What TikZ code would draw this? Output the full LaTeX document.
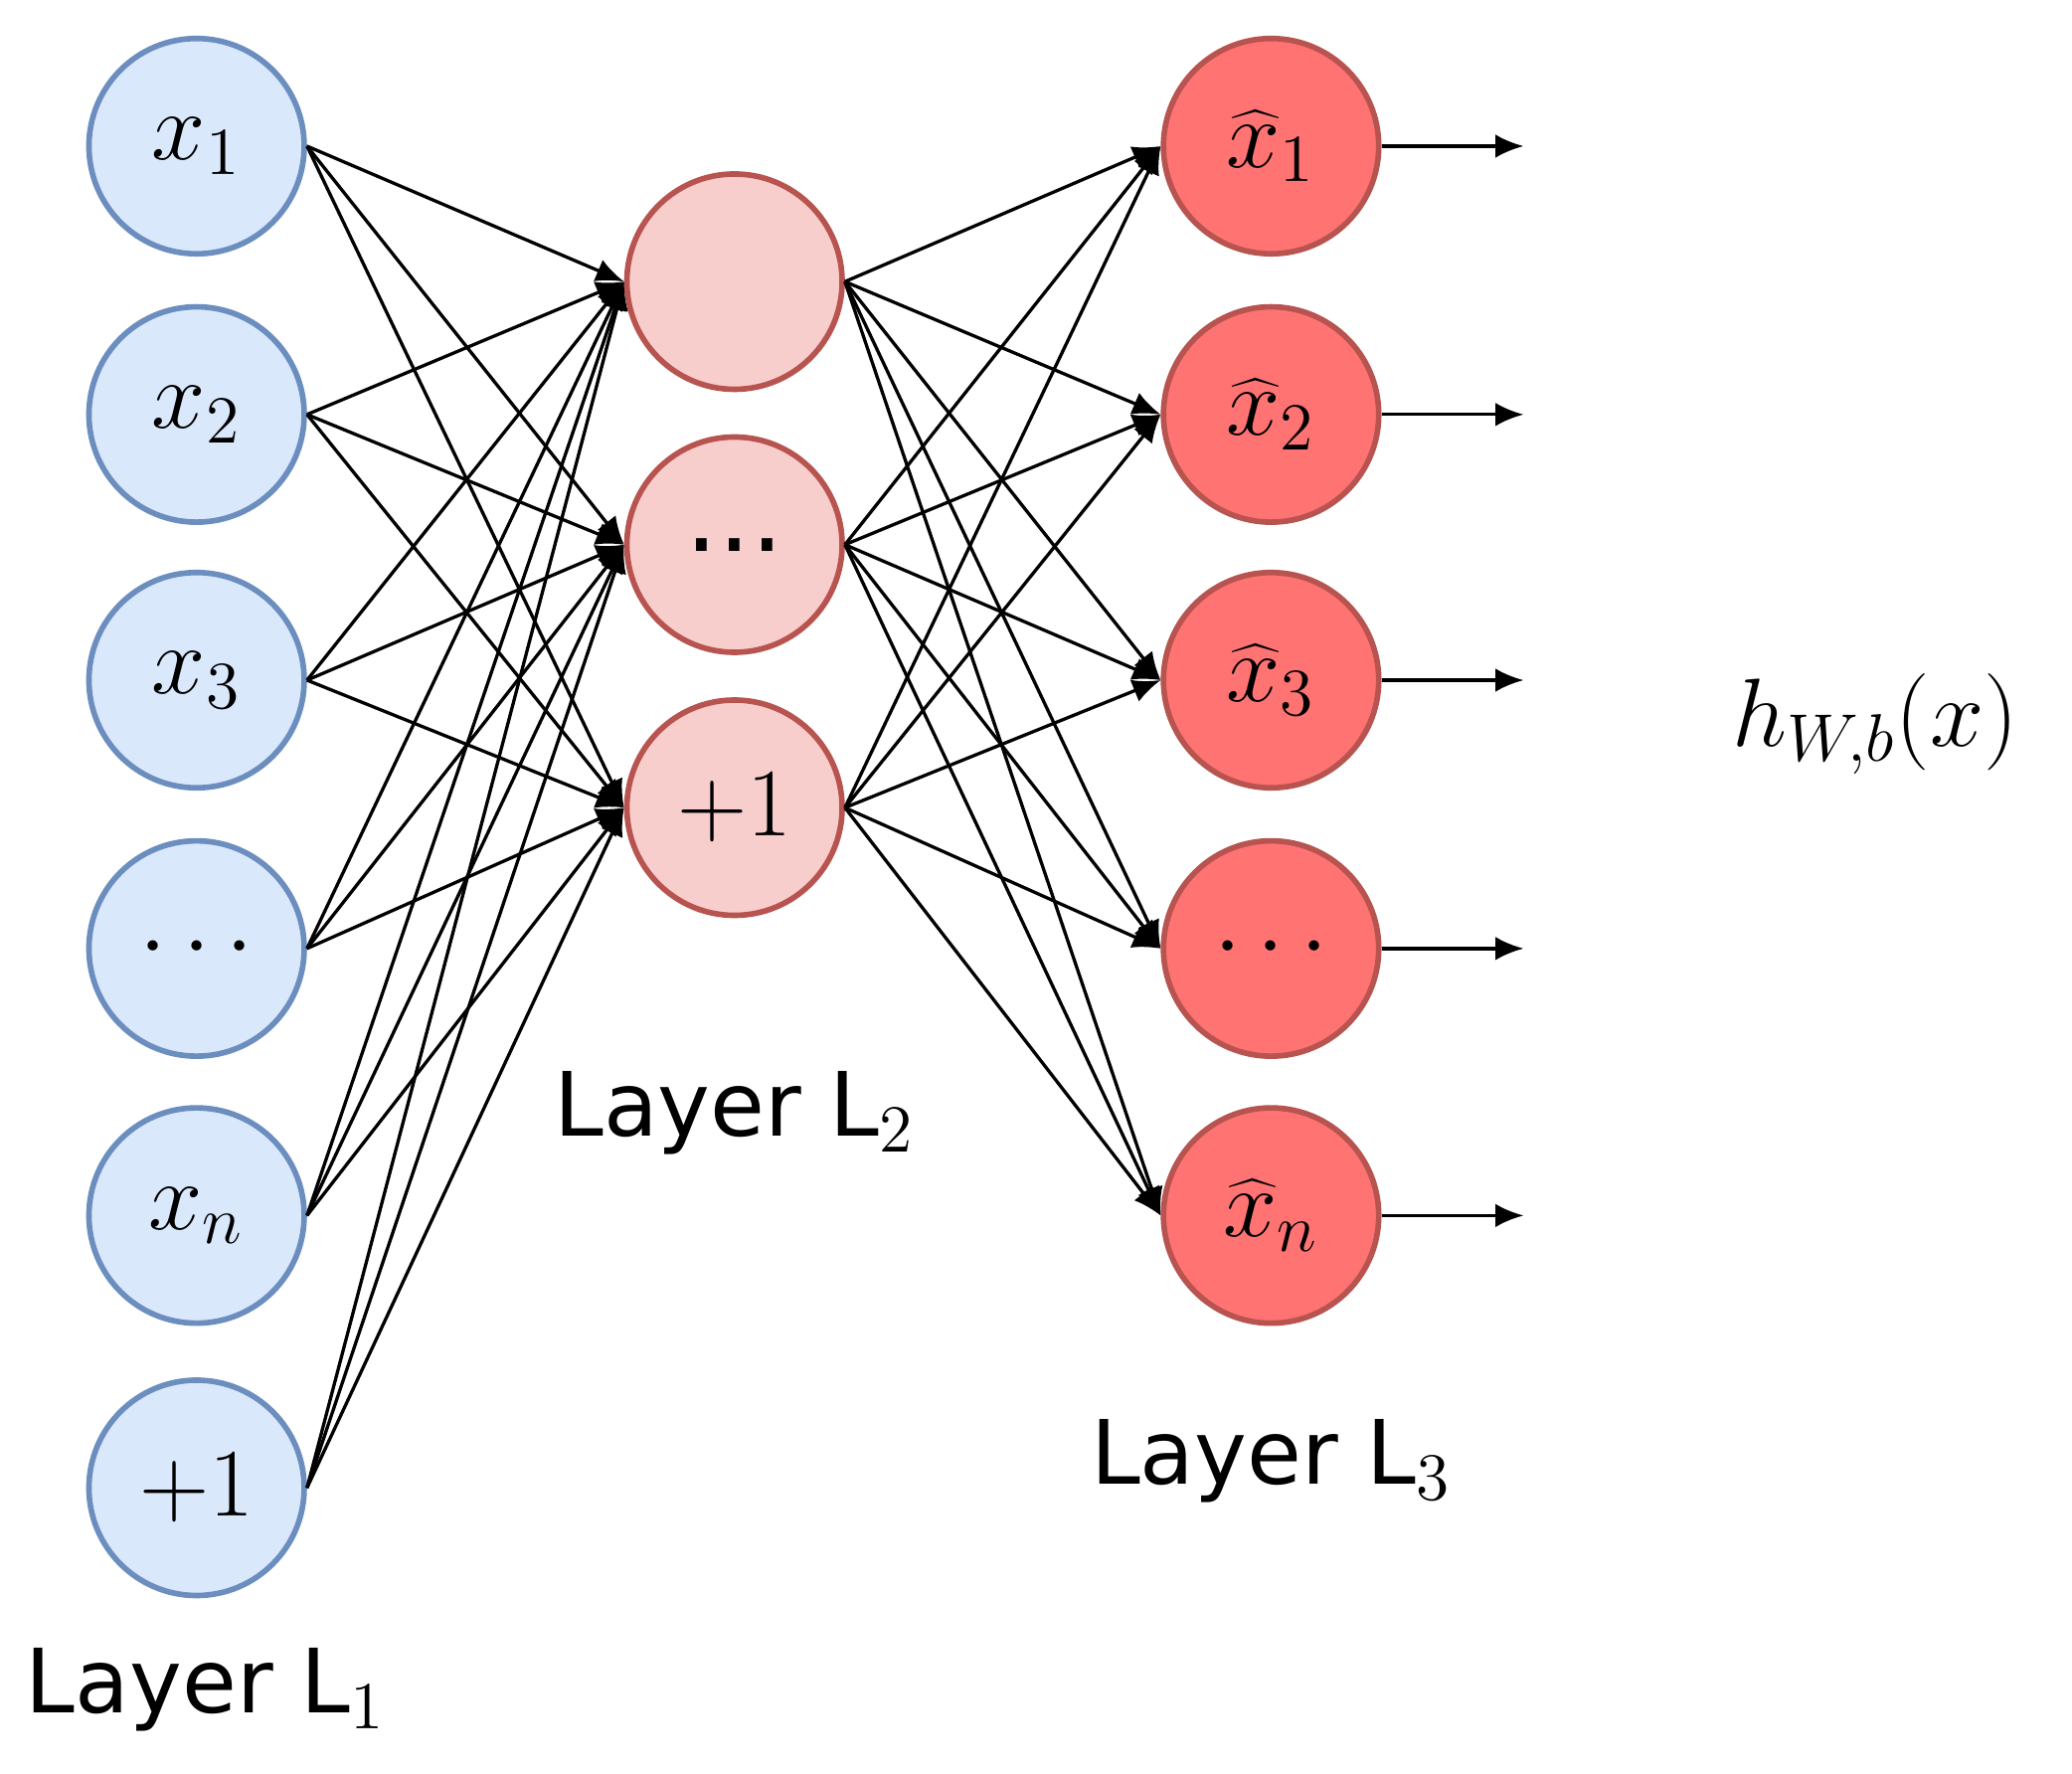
\documentclass[tikz,border=0pt]{standalone}
\usepackage{fontspec}
\setmainfont{DejaVu Sans}
\usetikzlibrary{arrows.meta}
\definecolor{inF}{HTML}{DAE8FC}\definecolor{inD}{HTML}{6C8EBF}
\definecolor{hidF}{HTML}{F8CECC}\definecolor{hidD}{HTML}{B85450}
\definecolor{outF}{HTML}{FF7373}
\begin{document}
\begin{tikzpicture}[x=0.01cm,y=-0.01cm,
  neuron/.style={circle,minimum size=1.62cm,inner sep=0pt,line width=1.2pt,font=\fontsize{22}{26}\selectfont},
  inp/.style={neuron,fill=inF,draw=inD},
  hid/.style={neuron,fill=hidF,draw=hidD},
  outp/.style={neuron,fill=outF,draw=hidD},
  conn/.style={line width=0.7pt,-{Latex[length=6pt,width=5pt]}},
  lbl/.style={font=\fontsize{19}{23}\selectfont}]
\useasboundingbox (0,0) rectangle (1560,1335);
\node[inp] (a1) at (148,110) {$x_1$};
\node[inp] (a2) at (148,312) {$x_2$};
\node[inp] (a3) at (148,512) {$x_3$};
\node[inp] (a4) at (148,714) {$\cdots$};
\node[inp] (a5) at (148,915) {$x_n$};
\node[inp] (a6) at (148,1120) {$+1$};
\node[hid] (b1) at (553,212) {};
\node[hid] (b2) at (553,410) {...};
\node[hid] (b3) at (553,608) {$+1$};
\node[outp] (c1) at (957,110) {$\widehat{x}_1$};
\node[outp] (c2) at (957,312) {$\widehat{x}_2$};
\node[outp] (c3) at (957,512) {$\widehat{x}_3$};
\node[outp] (c4) at (957,714) {$\cdots$};
\node[outp] (c5) at (957,915) {$\widehat{x}_n$};
\foreach \i in {1,...,5}{\coordinate (e\i) at ([xshift=1.9cm]c\i.center);}
\foreach \i in {1,...,6}{\foreach \j in {1,2,3}{\draw[conn] (a\i.east) -- (b\j.west);}}
\foreach \i in {1,2,3}{\foreach \j in {1,...,5}{\draw[conn] (b\i.east) -- (c\j.west);}}
\foreach \i in {1,...,5}{\draw[conn] (c\i.east) -- (e\i);}
\node[lbl] (l1) at (155,1272) {Layer L$_1$};
\node[lbl] (l2) at (553,838) {Layer L$_2$};
\node[lbl] (l3) at (957,1100) {Layer L$_3$};
\node[neuron,draw=none] (h) at (1412,545) {$h_{W,b}(x)$};
\end{tikzpicture}
\end{document}
